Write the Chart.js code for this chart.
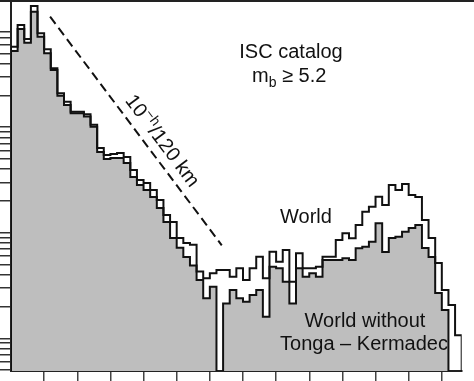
<!DOCTYPE html>
<html>
<head>
<meta charset="utf-8">
<script src="https://cdn.jsdelivr.net/npm/chart.js"></script>
<style>
  html, body { margin: 0; padding: 0; background: #fff; }
  #moldura { width: 474px; height: 379px; border-top: 2px solid #222; }
</style>
</head>
<body>
<div id="moldura"><canvas id="graficoProfundidade" width="474" height="379"></canvas></div>
<script>
// inicio de cada intervalo de profundidade (km)
const inicioBin = [
  0, 10, 20, 30, 40, 50, 60, 70, 80, 90,
  100, 110, 120, 130, 140, 150, 160, 170, 180, 190,
  200, 210, 220, 230, 240, 250, 260, 270, 280, 290,
  300, 310, 320, 330, 340, 350, 360, 370, 380, 390,
  400, 410, 420, 430, 440, 450, 460, 470, 480, 490,
  500, 510, 520, 530, 540, 550, 560, 570, 580, 590,
  600, 610, 620, 630, 640, 650, 660, 670
];
const larguraBin = 10;

// World
const mundo = [
  5770, 9270, 6820, 14030, 7730, 5450, 3610, 2090, 1740, 1400,
  1400, 1320, 1050, 634, 545, 556, 569, 521, 393, 316,
  296, 254, 204, 147, 126, 89, 80, 77, 42.8, 37,
  41.2, 44.3, 44.3, 38.3, 46, 35.7, 46, 59.3, 37, 66.1,
  53.1, 68.6, 34.4, 63.8, 46, 46, 47.6, 59.3, 59.3, 85.3,
  98.7, 88.5, 118, 158, 176, 219, 183, 283, 254, 289,
  228, 218, 132, 89.2, 51.6, 28.7, 20.7, 10.7
];

// World without Tonga - Kermadec
const semTonga = [
  5250, 8490, 6290, 12390, 7180, 5000, 3480, 1980, 1620, 1350,
  1350, 1260, 1010, 581, 499, 509, 509, 457, 337, 283,
  254, 218, 171, 126, 89, 72, 59, 49, 35.7, 23.9,
  30.8, 1, 21.4, 28.7, 23.9, 22.2, 25.7, 28.7, 16.0, 47.6,
  46, 34.4, 21.4, 46, 38.3, 41.2, 38.3, 55.2, 55.2, 55.2,
  57.3, 55.2, 71.1, 73.7, 82.1, 123, 65.6, 89.2, 91.7, 102,
  111, 118, 71.6, 58.9, 26.9, 18.5
];

// reta 10^(-h/120 km)
const retaProf = [59, 318];
const retaValor = [11100, 76];

const marcasX = [50, 100, 150, 200, 250, 300, 350, 400, 450, 500, 550, 600, 650];
const marcasY = [
  5, 6, 7, 8, 9,
  10, 20, 30, 40, 50, 60, 70, 80, 90,
  100, 200, 300, 400, 500, 600, 700, 800, 900,
  1000, 2000, 3000, 4000, 5000, 6000, 7000, 8000
];

const fundo = 1;

// cada valor vale do inicio do bin ate o inicio do proximo
function degraus(valores) {
  const pontos = [{ x: inicioBin[0], y: fundo }];
  valores.forEach((v, i) => pontos.push({ x: inicioBin[i], y: v }));
  const fim = inicioBin[valores.length - 1] + larguraBin;
  pontos.push({ x: fim, y: valores[valores.length - 1] });
  pontos.push({ x: fim, y: fundo });
  return pontos;
}

const textos = {
  id: 'textos',
  afterDraw(chart) {
    const ctx = chart.ctx;
    const fonte = '"Liberation Sans", Arial, sans-serif';
    ctx.save();
    ctx.fillStyle = '#111';
    ctx.textBaseline = 'alphabetic';

    ctx.font = '20px ' + fonte;
    ctx.textAlign = 'center';
    ctx.fillText('ISC catalog', 291, 55.5);
    ctx.fillText('World', 306, 220.5);
    ctx.fillText('World without', 365, 324.5);
    ctx.fillText('Tonga \u2013 Kermadec', 364, 348);

    ctx.textAlign = 'left';
    let x = 252;
    ctx.fillText('m', x, 79.5);
    x += ctx.measureText('m').width;
    ctx.font = '14px ' + fonte;
    ctx.fillText('b', x, 84.5);
    x += ctx.measureText('b').width;
    ctx.font = '20px ' + fonte;
    ctx.fillText(' \u2265 5.2', x, 79.5);

    // rotulo inclinado da reta
    const sx = chart.scales.x, sy = chart.scales.y;
    const x1 = sx.getPixelForValue(retaProf[0]), y1 = sy.getPixelForValue(retaValor[0]);
    const x2 = sx.getPixelForValue(retaProf[1]), y2 = sy.getPixelForValue(retaValor[1]);
    const ang = Math.atan2(y2 - y1, x2 - x1);
    const ao = 112, desv = 9;
    const px = x1 + ao * Math.cos(ang) + desv * Math.sin(ang);
    const py = y1 + ao * Math.sin(ang) - desv * Math.cos(ang);
    ctx.translate(px, py);
    ctx.rotate(ang);
    let t = 0;
    ctx.font = '20px ' + fonte;
    ctx.fillText('10', t, 0);
    t += ctx.measureText('10').width;
    ctx.font = '14px ' + fonte;
    ctx.fillText('\u2212h', t, -8);
    t += ctx.measureText('\u2212h').width;
    ctx.font = '20px ' + fonte;
    ctx.fillText('/120 km', t, 0);
    ctx.restore();
  }
};

const grafico = new Chart(document.getElementById('graficoProfundidade'), {
  type: 'line',
  data: {
    datasets: [
      {
        label: 'World',
        data: degraus(mundo),
        stepped: 'before',
        borderColor: '#111',
        borderWidth: 2,
        pointRadius: 0,
        fill: false,
        borderJoinStyle: 'miter'
      },
      {
        label: 'World without Tonga - Kermadec',
        data: degraus(semTonga),
        stepped: 'before',
        borderColor: '#111',
        borderWidth: 2,
        backgroundColor: '#bebebe',
        pointRadius: 0,
        fill: 'start',
        borderJoinStyle: 'miter'
      },
      {
        label: '10^-h/120 km',
        data: retaProf.map((p, i) => ({ x: p, y: retaValor[i] })),
        borderColor: '#111',
        borderWidth: 2,
        borderDash: [9, 5],
        pointRadius: 0,
        fill: false
      }
    ]
  },
  options: {
    responsive: false,
    animation: false,
    devicePixelRatio: 1,
    layout: { padding: { left: 0, right: 12.3, top: 0, bottom: 0 }, autoPadding: false },
    plugins: { legend: { display: false }, tooltip: { enabled: false } },
    scales: {
      x: {
        type: 'linear',
        min: 0,
        max: 680,
        afterBuildTicks: (eixo) => { eixo.ticks = marcasX.map(v => ({ value: v })); },
        ticks: { display: false },
        grid: { drawOnChartArea: false, drawTicks: true, tickLength: 10, color: '#444', lineWidth: 1.5 },
        border: { display: true, color: '#222', width: 2 }
      },
      y: {
        type: 'logarithmic',
        min: 4.9,
        max: 15300,
        afterBuildTicks: (eixo) => { eixo.ticks = marcasY.map(v => ({ value: v })); },
        ticks: { display: false },
        grid: { drawOnChartArea: false, drawTicks: true, tickLength: 11, color: '#333', lineWidth: 1.5 },
        border: { display: true, color: '#222', width: 2 }
      }
    }
  },
  plugins: [textos]
});
</script>
</body>
</html>
